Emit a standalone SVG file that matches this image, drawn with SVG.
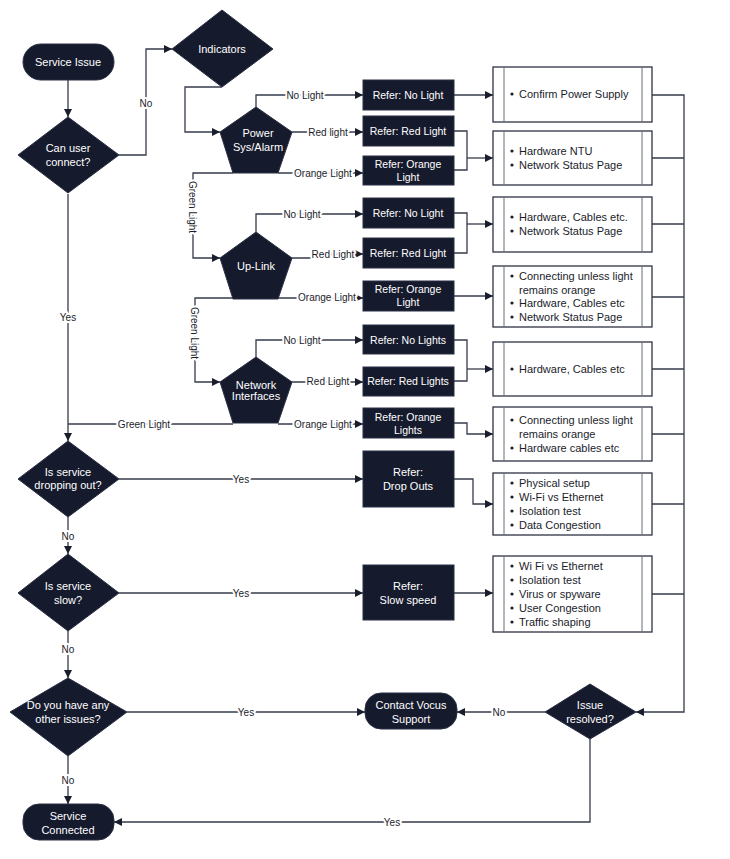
<svg xmlns="http://www.w3.org/2000/svg" width="730" height="859" viewBox="0 0 730 859">
<style>
.n{fill:#161a2d;stroke:#2a2f44;stroke-width:1}
.t{font-family:"Liberation Sans",Arial,sans-serif;font-size:11px;fill:#ffffff;text-anchor:middle}
.tr{font-family:"Liberation Sans",Arial,sans-serif;font-size:10.5px;fill:#ffffff;text-anchor:middle}
.c{fill:none;stroke:#363a4b;stroke-width:1.3}
.l{font-family:"Liberation Sans",Arial,sans-serif;font-size:10px;fill:#1a1d2b;text-anchor:middle;stroke:#ffffff;stroke-width:4;paint-order:stroke;stroke-linejoin:round}
.b{fill:#ffffff;stroke:#2e3242;stroke-width:1.3}
.bi{stroke:#6a6d78;stroke-width:1}
.bt{font-family:"Liberation Sans",Arial,sans-serif;font-size:11px;fill:#1a1d2b}
.bu{fill:#1a1d2b}
</style>
<defs>
<marker id="a" viewBox="0 0 10 10" refX="10" refY="5" markerWidth="8" markerHeight="8" markerUnits="userSpaceOnUse" orient="auto">
<path d="M0,0 L10,5 L0,10 z" fill="#1a1d2b"/>
</marker>
</defs>

<g id="connectors">
<path class="c" d="M68,80 V117" marker-end="url(#a)"/>
<path class="c" d="M119,155 H146 V49 H172" marker-end="url(#a)"/>
<path class="c" d="M222,87 H185 V132 H220" marker-end="url(#a)"/>
<path class="c" d="M256,107 V95 H363" marker-end="url(#a)"/>
<path class="c" d="M292,132 H363" marker-end="url(#a)"/>
<path class="c" d="M278,173 H363" marker-end="url(#a)"/>
<path class="c" d="M233,173 H193 V258 H220" marker-end="url(#a)"/>
<path class="c" d="M256,232 V214 H363" marker-end="url(#a)"/>
<path class="c" d="M292,258 H320 V254 H363" marker-end="url(#a)"/>
<path class="c" d="M233,298 H363" marker-end="url(#a)"/>
<path class="c" d="M233,298 H195 V382 H220" marker-end="url(#a)"/>
<path class="c" d="M256,357 V340 H363" marker-end="url(#a)"/>
<path class="c" d="M292,382 H363" marker-end="url(#a)"/>
<path class="c" d="M278,424 H363" marker-end="url(#a)"/>
<path class="c" d="M233,424 H68"/>
<path class="c" d="M68,194 V441" marker-end="url(#a)"/>
<path class="c" d="M119,479 H363" marker-end="url(#a)"/>
<path class="c" d="M68,517 V554" marker-end="url(#a)"/>
<path class="c" d="M119,593 H363" marker-end="url(#a)"/>
<path class="c" d="M68,631 V678" marker-end="url(#a)"/>
<path class="c" d="M127,712 H365" marker-end="url(#a)"/>
<path class="c" d="M68,756 V804" marker-end="url(#a)"/>
<path class="c" d="M545,712 H457" marker-end="url(#a)"/>
<path class="c" d="M590,739 V822 H114" marker-end="url(#a)"/>
<path class="c" d="M652,95 H684 V712 H636" marker-end="url(#a)"/>
<path class="c" d="M652,158 H684 M652,224 H684 M652,297 H684 M652,369 H684 M652,434 H684 M652,504 H684 M652,594 H684"/>
<path class="c" d="M454,95 H493" marker-end="url(#a)"/>
<path class="c" d="M454,131 H467 V170 H454"/>
<path class="c" d="M467,158 H493" marker-end="url(#a)"/>
<path class="c" d="M454,213 H467 V253 H454"/>
<path class="c" d="M467,224 H493" marker-end="url(#a)"/>
<path class="c" d="M454,296 H493" marker-end="url(#a)"/>
<path class="c" d="M454,340 H467 V381 H454"/>
<path class="c" d="M467,369 H493" marker-end="url(#a)"/>
<path class="c" d="M454,423 H467 V434 H493" marker-end="url(#a)"/>
<path class="c" d="M454,479 H473 V504 H493" marker-end="url(#a)"/>
<path class="c" d="M454,593 H493" marker-end="url(#a)"/>

<text class="l" x="146" y="107">No</text>
<text class="l" x="305" y="99">No Light</text>
<text class="l" x="328" y="136">Red light</text>
<text class="l" x="323" y="177">Orange Light</text>
<text class="l" transform="translate(189,207) rotate(90)" x="0" y="0">Green Light</text>
<text class="l" x="302" y="218">No Light</text>
<text class="l" x="333" y="258">Red Light</text>
<text class="l" x="327" y="301">Orange Light</text>
<text class="l" transform="translate(191,333) rotate(90)" x="0" y="0">Green Light</text>
<text class="l" x="302" y="344">No Light</text>
<text class="l" x="328" y="385">Red Light</text>
<text class="l" x="323" y="428">Orange Light</text>
<text class="l" x="144" y="428">Green Light</text>
<text class="l" x="68" y="321">Yes</text>
<text class="l" x="241" y="483">Yes</text>
<text class="l" x="68" y="540">No</text>
<text class="l" x="241" y="597">Yes</text>
<text class="l" x="68" y="653">No</text>
<text class="l" x="246" y="716">Yes</text>
<text class="l" x="68" y="784">No</text>
<text class="l" x="499" y="716">No</text>
<text class="l" x="392" y="826">Yes</text>
</g>

<g id="service-issue"><rect class="n" x="23" y="44" width="91" height="36" rx="18"/><text class="t" x="68" y="66">Service Issue</text></g>
<g id="can-user-connect"><polygon class="n" points="68,117 119,155 68,193 18,155"/><text class="t" x="68" y="152">Can user</text><text class="t" x="68" y="166">connect?</text></g>
<g id="indicators"><polygon class="n" points="222,10 273,49 222,87 172,49"/><text class="t" x="222" y="53">Indicators</text></g>
<g id="power"><polygon class="n" points="256,107 292,132 278,173 233,173 220,132"/><text class="t" x="258" y="137">Power</text><text class="t" x="258" y="151">Sys/Alarm</text></g>
<g id="uplink"><polygon class="n" points="256,232 292,258 278,299 233,299 220,258"/><text class="t" x="256" y="270">Up-Link</text></g>
<g id="network"><polygon class="n" points="256,357 292,382 278,423 233,423 220,382"/><text class="t" x="256" y="389">Network</text><text class="t" x="256" y="400">Interfaces</text></g>

<g id="refer-p-none"><rect class="n" x="363" y="80" width="91" height="30"/><text class="tr" x="408" y="99">Refer: No Light</text></g>
<g id="refer-p-red"><rect class="n" x="363" y="116" width="91" height="30"/><text class="tr" x="408" y="135">Refer: Red Light</text></g>
<g id="refer-p-orange"><rect class="n" x="363" y="156" width="91" height="29"/><text class="tr" x="408" y="168">Refer: Orange</text><text class="tr" x="408" y="181">Light</text></g>
<g id="refer-u-none"><rect class="n" x="363" y="198" width="91" height="30"/><text class="tr" x="408" y="217">Refer: No Light</text></g>
<g id="refer-u-red"><rect class="n" x="363" y="238" width="91" height="30"/><text class="tr" x="408" y="257">Refer: Red Light</text></g>
<g id="refer-u-orange"><rect class="n" x="363" y="281" width="91" height="30"/><text class="tr" x="408" y="293">Refer: Orange</text><text class="tr" x="408" y="306">Light</text></g>
<g id="refer-n-none"><rect class="n" x="363" y="325" width="91" height="29"/><text class="tr" x="408" y="344">Refer: No Lights</text></g>
<g id="refer-n-red"><rect class="n" x="363" y="367" width="91" height="29"/><text class="tr" x="408" y="385">Refer: Red Lights</text></g>
<g id="refer-n-orange"><rect class="n" x="363" y="408" width="91" height="30"/><text class="tr" x="408" y="421">Refer: Orange</text><text class="tr" x="408" y="434">Lights</text></g>
<g id="refer-drop"><rect class="n" x="363" y="451" width="91" height="56"/><text class="t" x="408" y="476">Refer:</text><text class="t" x="408" y="490">Drop Outs</text></g>
<g id="refer-slow"><rect class="n" x="363" y="565" width="91" height="55"/><text class="t" x="408" y="590">Refer:</text><text class="t" x="408" y="604">Slow speed</text></g>

<g id="dropping"><polygon class="n" points="68,441 119,479 68,517 18,479"/><text class="t" x="68" y="476">Is service</text><text class="t" x="68" y="489">dropping out?</text></g>
<g id="slow"><polygon class="n" points="68,554 119,593 68,631 18,593"/><text class="t" x="68" y="590">Is service</text><text class="t" x="68" y="604">slow?</text></g>
<g id="other-issues"><polygon class="n" points="68,678 127,712 68,756 10,712"/><text class="t" x="68" y="709">Do you have any</text><text class="t" x="68" y="723">other issues?</text></g>
<g id="contact"><rect class="n" x="365" y="693" width="92" height="36" rx="16"/><text class="t" x="411" y="709">Contact Vocus</text><text class="t" x="411" y="723">Support</text></g>
<g id="issue-resolved"><polygon class="n" points="590,684 636,712 590,739 545,712"/><text class="t" x="590" y="709">Issue</text><text class="t" x="590" y="723">resolved?</text></g>
<g id="service-connected"><rect class="n" x="23" y="804" width="91" height="36" rx="16"/><text class="t" x="68" y="820">Service</text><text class="t" x="68" y="834">Connected</text></g>

<g id="box1"><rect class="b" x="493" y="67" width="159" height="55"/><path class="bi" d="M504,67 V122 M642,67 V122"/><circle class="bu" cx="512" cy="94" r="1.6"/><text class="bt" x="519" y="98">Confirm Power Supply</text></g>
<g id="box2"><rect class="b" x="493" y="131" width="159" height="54"/><path class="bi" d="M504,131 V185 M642,131 V185"/><circle class="bu" cx="512" cy="151" r="1.6"/><circle class="bu" cx="512" cy="165" r="1.6"/><text class="bt" x="519" y="155">Hardware NTU</text><text class="bt" x="519" y="169">Network Status Page</text></g>
<g id="box3"><rect class="b" x="493" y="197" width="159" height="55"/><path class="bi" d="M504,197 V252 M642,197 V252"/><circle class="bu" cx="512" cy="217" r="1.6"/><circle class="bu" cx="512" cy="231" r="1.6"/><text class="bt" x="519" y="221">Hardware, Cables etc.</text><text class="bt" x="519" y="235">Network Status Page</text></g>
<g id="box4"><rect class="b" x="493" y="266" width="159" height="61"/><path class="bi" d="M504,266 V327 M642,266 V327"/><circle class="bu" cx="512" cy="276" r="1.6"/><circle class="bu" cx="512" cy="303" r="1.6"/><circle class="bu" cx="512" cy="317" r="1.6"/><text class="bt" x="519" y="280">Connecting unless light</text><text class="bt" x="519" y="294">remains orange</text><text class="bt" x="519" y="307">Hardware, Cables etc</text><text class="bt" x="519" y="321">Network Status Page</text></g>
<g id="box5"><rect class="b" x="493" y="342" width="159" height="54"/><path class="bi" d="M504,342 V396 M642,342 V396"/><circle class="bu" cx="512" cy="369" r="1.6"/><text class="bt" x="519" y="373">Hardware, Cables etc</text></g>
<g id="box6"><rect class="b" x="493" y="407" width="159" height="54"/><path class="bi" d="M504,407 V461 M642,407 V461"/><circle class="bu" cx="512" cy="420" r="1.6"/><circle class="bu" cx="512" cy="448" r="1.6"/><text class="bt" x="519" y="424">Connecting unless light</text><text class="bt" x="519" y="438">remains orange</text><text class="bt" x="519" y="452">Hardware cables etc</text></g>
<g id="box7"><rect class="b" x="493" y="473" width="159" height="62"/><path class="bi" d="M504,473 V535 M642,473 V535"/><circle class="bu" cx="512" cy="483" r="1.6"/><circle class="bu" cx="512" cy="497" r="1.6"/><circle class="bu" cx="512" cy="511" r="1.6"/><circle class="bu" cx="512" cy="525" r="1.6"/><text class="bt" x="519" y="487">Physical setup</text><text class="bt" x="519" y="501">Wi-Fi vs Ethernet</text><text class="bt" x="519" y="515">Isolation test</text><text class="bt" x="519" y="529">Data Congestion</text></g>
<g id="box8"><rect class="b" x="493" y="556" width="159" height="76"/><path class="bi" d="M504,556 V632 M642,556 V632"/><circle class="bu" cx="512" cy="566" r="1.6"/><circle class="bu" cx="512" cy="580" r="1.6"/><circle class="bu" cx="512" cy="594" r="1.6"/><circle class="bu" cx="512" cy="608" r="1.6"/><circle class="bu" cx="512" cy="622" r="1.6"/><text class="bt" x="519" y="570">Wi Fi vs Ethernet</text><text class="bt" x="519" y="584">Isolation test</text><text class="bt" x="519" y="598">Virus or spyware</text><text class="bt" x="519" y="612">User Congestion</text><text class="bt" x="519" y="626">Traffic shaping</text></g>
</svg>
